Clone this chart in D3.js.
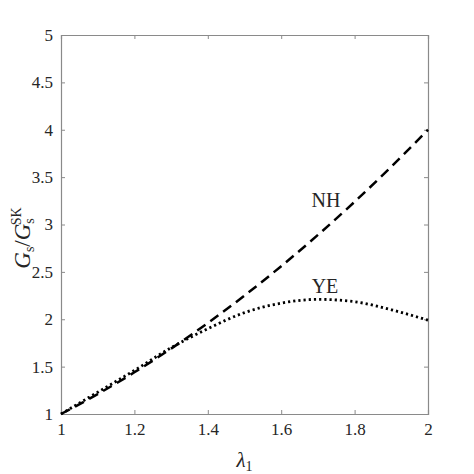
<!DOCTYPE html>
<html>
<head>
<meta charset="utf-8">
<script src="https://cdn.jsdelivr.net/npm/d3@7"></script>
<style>
  body { margin: 0; background: #fff; }
  svg text { font-family: 'Liberation Serif', 'Times New Roman', serif !important; fill: #262626; }
</style>
</head>
<body>
<div id="chart"></div>
<script>
// stretch values
const lambda = [1, 1.1, 1.2, 1.3, 1.4, 1.5, 1.6, 1.7, 1.8, 1.9, 2];
const nhValues = [1, 1.21, 1.44, 1.69, 1.96, 2.25, 2.56, 2.89, 3.24, 3.61, 4];
const yeValues = [1, 1.23, 1.46, 1.70, 1.90, 2.07, 2.17, 2.21, 2.185, 2.10, 1.99];
const xTicks = [1, 1.2, 1.4, 1.6, 1.8, 2];
const yTicks = [1, 1.5, 2, 2.5, 3, 3.5, 4, 4.5, 5];

const width = 474, height = 474;
const margin = {top: 35, right: 46, bottom: 60, left: 61};

const svg = d3.select("#chart").append("svg")
    .attr("width", width)
    .attr("height", height)
    .attr("font-family", "Liberation Serif");

const x = d3.scaleLinear().domain([1, 2]).range([margin.left, width - margin.right]);
const y = d3.scaleLinear().domain([1, 5]).range([height - margin.bottom, margin.top]);

const axisColor = "#8a8a8a";

// axes with inward ticks, mirrored on the top and right
function styleAxis(g) {
    g.attr("font-family", "Liberation Serif").attr("font-size", 17);
    g.select(".domain").attr("stroke", axisColor).attr("stroke-width", 1.2);
    g.selectAll(".tick line").attr("stroke", axisColor).attr("stroke-width", 1);
    g.selectAll(".tick text").attr("fill", "#262626");
}

svg.append("g")
    .attr("transform", `translate(0,${y(1)})`)
    .call(d3.axisBottom(x).tickValues(xTicks).tickSize(-4).tickPadding(9).tickFormat(d3.format("")))
    .call(styleAxis);

svg.append("g")
    .attr("transform", `translate(0,${y(5)})`)
    .call(d3.axisTop(x).tickValues(xTicks).tickSize(-4).tickFormat(""))
    .call(styleAxis);

svg.append("g")
    .attr("transform", `translate(${x(1)},0)`)
    .call(d3.axisLeft(y).tickValues(yTicks).tickSize(-4).tickPadding(8).tickFormat(d3.format("")))
    .call(styleAxis);

svg.append("g")
    .attr("transform", `translate(${x(2)},0)`)
    .call(d3.axisRight(y).tickValues(yTicks).tickSize(-4).tickFormat(""))
    .call(styleAxis);

// curves
const line = d3.line().curve(d3.curveMonotoneX);

svg.append("path")
    .datum(lambda.map((d, i) => [x(d), y(nhValues[i])]))
    .attr("d", line)
    .attr("fill", "none")
    .attr("stroke", "#000")
    .attr("stroke-width", 2.5)
    .attr("stroke-dasharray", "10,6");

svg.append("path")
    .datum(lambda.map((d, i) => [x(d), y(yeValues[i])]))
    .attr("d", line)
    .attr("fill", "none")
    .attr("stroke", "#000")
    .attr("stroke-width", 2.8)
    .attr("stroke-dasharray", "2.2,3");

// curve labels
svg.append("text")
    .attr("x", 326).attr("y", 207)
    .attr("text-anchor", "middle")
    .attr("font-size", 20)
    .text("NH");

svg.append("text")
    .attr("x", 325).attr("y", 293)
    .attr("text-anchor", "middle")
    .attr("font-size", 20)
    .text("YE");

// x label
const xl = svg.append("text")
    .attr("x", (x(1) + x(2)) / 2).attr("y", 467)
    .attr("text-anchor", "middle")
    .attr("font-size", 21);
xl.append("tspan").attr("font-style", "italic").text("λ");
xl.append("tspan").attr("dy", 4).attr("font-size", 14).text("1");

// y label
const yl = svg.append("text")
    .attr("transform", `translate(30,238) rotate(-90)`)
    .attr("text-anchor", "middle")
    .attr("font-size", 23);
yl.append("tspan").attr("font-style", "italic").text("G");
yl.append("tspan").attr("dy", 4).attr("font-size", 14).text("s");
yl.append("tspan").attr("dy", -4).text("/");
yl.append("tspan").attr("font-style", "italic").text("G");
yl.append("tspan").attr("dy", 4).attr("font-size", 14).text("s");
yl.append("tspan").attr("dx", -7).attr("dy", -13).attr("font-size", 14).text("SK");
</script>
</body>
</html>
